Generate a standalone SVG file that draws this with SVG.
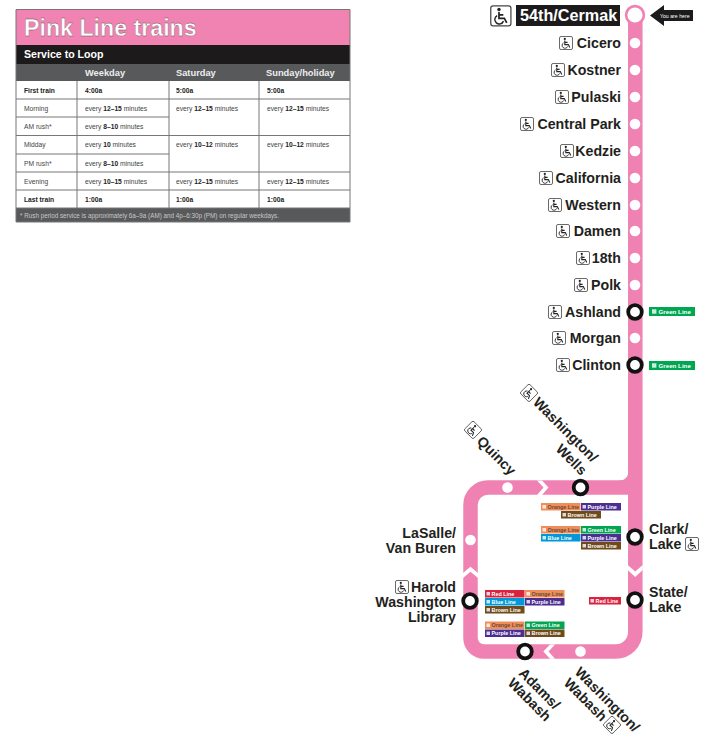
<svg xmlns="http://www.w3.org/2000/svg" width="724" height="738" viewBox="0 0 724 738">
<style>
text{font-family:"Liberation Sans",Arial,sans-serif}
.st{font-size:14.2px;font-weight:700;fill:#231f20}
.e{text-anchor:end}
.th{font-size:9.3px;font-weight:700;fill:#eee}
.td{font-size:6.7px;fill:#444}
.td tspan{font-weight:700;fill:#222}
.b{font-weight:700;fill:#222}
.grid{stroke:#777;stroke-width:1;fill:none}
.ring{fill:#fff;stroke:#111;stroke-width:3.8}
.stop{fill:#fff}
.tl{font-size:5.4px;font-weight:700;fill:#fff}
.gl{font-size:6.2px}
.ol{fill:#6a4a36}
.sq{fill:#fff;opacity:.8}
.chev{fill:#fff}
</style>
<defs>
<g id="ada">
<rect x=".5" y=".5" width="13" height="13" rx="1.5" fill="#fff" stroke="#444" stroke-width=".8"/>
<circle cx="5.8" cy="2.9" r="1.1" fill="#222"/>
<path d="M5.8 4.5V8.6H9.3L10.8 11.6M5.8 6.4H8.6" fill="none" stroke="#222" stroke-width="1.1"/>
<path d="M4.6 6.8A2.9 2.9 0 1 0 8.7 10.4" fill="none" stroke="#222" stroke-width=".9"/>
</g>
</defs>

<g id="schedule-table">
<rect x="16" y="9" width="334" height="213" fill="#fff"/>
<rect x="16" y="9" width="334" height="36" fill="#f083b2"/>
<rect x="16" y="45" width="334" height="19" fill="#1c1a1b"/>
<rect x="16" y="64" width="334" height="17" fill="#58595b"/>
<rect x="16" y="208" width="334" height="14" fill="#58595b"/>
<path class="grid" d="M16 9.500H350V222H16ZM16 99H350M16 117H169M16 135.500H350M16 154H169M16 172H350M16 190H350M16 208H350M77 81V208M169 81V208M259 81V208"/>
<text x="24" y="35.500" font-size="23.200" font-weight="700" fill="#fff" stroke="#5a4a50" stroke-width=".3">Pink Line trains</text>
<text x="24" y="58" font-size="10.600" font-weight="700" fill="#fff">Service to Loop</text>
<text class="th" x="85" y="76">Weekday</text>
<text class="th" x="176" y="76">Saturday</text>
<text class="th" x="266" y="76">Sunday/holiday</text>
<text class="td b" x="24" y="93">First train</text>
<text class="td" x="24" y="111">Morning</text>
<text class="td" x="24" y="129">AM rush*</text>
<text class="td" x="24" y="147">Midday</text>
<text class="td" x="24" y="166">PM rush*</text>
<text class="td" x="24" y="184">Evening</text>
<text class="td b" x="24" y="202">Last train</text>
<text class="td b" x="85" y="93">4:00a</text>
<text class="td" x="85" y="111">every <tspan>12–15</tspan> minutes</text>
<text class="td" x="85" y="129">every <tspan>8–10</tspan> minutes</text>
<text class="td" x="85" y="147">every <tspan>10</tspan> minutes</text>
<text class="td" x="85" y="166">every <tspan>8–10</tspan> minutes</text>
<text class="td" x="85" y="184">every <tspan>10–15</tspan> minutes</text>
<text class="td b" x="85" y="202">1:00a</text>
<text class="td b" x="176" y="93">5:00a</text>
<text class="td" x="176" y="111">every <tspan>12–15</tspan> minutes</text>
<text class="td" x="176" y="147">every <tspan>10–12</tspan> minutes</text>
<text class="td" x="176" y="184">every <tspan>12–15</tspan> minutes</text>
<text class="td b" x="176" y="202">1:00a</text>
<text class="td b" x="267" y="93">5:00a</text>
<text class="td" x="267" y="111">every <tspan>12–15</tspan> minutes</text>
<text class="td" x="267" y="147">every <tspan>10–12</tspan> minutes</text>
<text class="td" x="267" y="184">every <tspan>12–15</tspan> minutes</text>
<text class="td b" x="267" y="202">1:00a</text>
<text x="20" y="218" font-size="6.300" fill="#c8c8c8">* Rush period service is approximately 6a–9a (AM) and 4p–6:30p (PM) on regular weekdays.</text>
</g>

<g id="connectors">
<path d="M635.300 15V632A19.500 19.500 0 0 1 615.800 651.500H484A13.500 13.500 0 0 1 470.500 638V505A17.500 17.500 0 0 1 488 487.500H635" fill="none" stroke="#ef82b3" stroke-width="14.500"/>
<path d="M628.500 470Q628.500 481 617 481H628.500Z" fill="#ef82b3"/>
<polygon class="chev" points="537,480.500 542,480.500 548.500,487.500 542,495 537,495 543.500,487.500"/>
<polygon class="chev" points="627.700,565 635.200,571.500 642.700,565 642.700,570 635.200,577 627.700,570"/>
<polygon class="chev" points="463,573 470.500,566.700 478,573 478,578 470.500,571.700 463,578"/>
<polygon class="chev" points="555,644.500 550,644.500 543.300,651.500 550,658.700 555,658.700 548.500,651.500"/>
</g>

<g id="station-54th-cermak">
<circle cx="635" cy="15" r="8.900" fill="#fff" stroke="#ef82b3" stroke-width="2.600"/>
<rect x="516" y="5" width="104" height="21" fill="#1c1a1b"/>
<text x="520" y="21" font-size="16.200" font-weight="700" fill="#fff">54th/Cermak</text>
<use href="#ada" transform="translate(490 5) scale(1.55)"/>
</g>
<g id="you-are-here">
<polygon points="650,15.500 664,5 664,10 693,10 693,21 664,21 664,26" fill="#1c1a1b"/>
<text x="660" y="18" font-size="5.200" fill="#fff">You are here</text>
</g>
<g id="station-cicero"><circle class="stop" cx="635" cy="43" r="5.300"/><text class="st e" x="621" y="48">Cicero</text><use href="#ada" x="559" y="36"/></g>
<g id="station-kostner"><circle class="stop" cx="635" cy="70" r="5.300"/><text class="st e" x="621" y="75">Kostner</text><use href="#ada" x="551" y="63"/></g>
<g id="station-pulaski"><circle class="stop" cx="635" cy="97" r="5.300"/><text class="st e" x="621" y="102">Pulaski</text><use href="#ada" x="555" y="90"/></g>
<g id="station-central-park"><circle class="stop" cx="635" cy="124" r="5.300"/><text class="st e" x="621" y="129">Central Park</text><use href="#ada" x="520" y="117"/></g>
<g id="station-kedzie"><circle class="stop" cx="635" cy="151" r="5.300"/><text class="st e" x="621" y="156">Kedzie</text><use href="#ada" x="560" y="144"/></g>
<g id="station-california"><circle class="stop" cx="635" cy="178" r="5.300"/><text class="st e" x="621" y="183">California</text><use href="#ada" x="539" y="171"/></g>
<g id="station-western"><circle class="stop" cx="635" cy="205" r="5.300"/><text class="st e" x="621" y="210">Western</text><use href="#ada" x="548" y="198"/></g>
<g id="station-damen"><circle class="stop" cx="635" cy="231" r="5.300"/><text class="st e" x="621" y="236">Damen</text><use href="#ada" x="556" y="224"/></g>
<g id="station-18th"><circle class="stop" cx="635" cy="258" r="5.300"/><text class="st e" x="621" y="263">18th</text><use href="#ada" x="576" y="251"/></g>
<g id="station-polk"><circle class="stop" cx="635" cy="285" r="5.300"/><text class="st e" x="621" y="290">Polk</text><use href="#ada" x="574" y="278"/></g>
<g id="station-ashland"><circle class="ring" cx="635" cy="312" r="6.800"/><text class="st e" x="621" y="317">Ashland</text><use href="#ada" x="548" y="305"/>
<rect x="649" y="307" width="46" height="9" fill="#00a651"/><rect class="sq" x="652" y="309.300" width="4.400" height="4.400"/><text class="tl gl" x="658.500" y="313.800">Green Line</text></g>
<g id="station-morgan"><circle class="stop" cx="635" cy="338" r="5.300"/><text class="st e" x="621" y="343">Morgan</text><use href="#ada" x="552" y="331"/></g>
<g id="station-clinton"><circle class="ring" cx="635" cy="365" r="6.800"/><text class="st e" x="621" y="370">Clinton</text><use href="#ada" x="556" y="358"/>
<rect x="649" y="361" width="46" height="9" fill="#00a651"/><rect class="sq" x="652" y="363.300" width="4.400" height="4.400"/><text class="tl gl" x="658.500" y="367.800">Green Line</text></g>

<g id="station-washington-wells">
<circle class="ring" cx="580.500" cy="487.500" r="6.800"/>
<text class="st" text-anchor="end" transform="translate(592 463) rotate(45)">Washington/</text>
<text class="st" text-anchor="end" transform="translate(581 476) rotate(45)">Wells</text>
<use href="#ada" transform="translate(529 383) rotate(45)"/>
<g transform="translate(541 503)"><rect width="39.500" height="7.500" fill="#f08e5a"/><rect class="sq" x="1.500" y="2" width="3.500" height="3.500"/><text class="tl ol" x="6.500" y="5.700">Orange Line</text></g>
<g transform="translate(581 503)"><rect width="40" height="7.500" fill="#4b2e90"/><rect class="sq" x="1.500" y="2" width="3.500" height="3.500"/><text class="tl" x="6.500" y="5.700">Purple Line</text></g>
<g transform="translate(561 511)"><rect width="40" height="7.500" fill="#6e4a1c"/><rect class="sq" x="1.500" y="2" width="3.500" height="3.500"/><text class="tl" x="6.500" y="5.700">Brown Line</text></g>
</g>
<g id="station-quincy">
<circle class="stop" cx="507.500" cy="487.500" r="5.300"/>
<text class="st" text-anchor="end" transform="translate(510 476) rotate(45)">Quincy</text>
<use href="#ada" transform="translate(473 420) rotate(45)"/>
</g>
<g id="station-lasalle-van-buren">
<circle class="stop" cx="470.500" cy="540" r="5.300"/>
<text class="st e" x="456" y="538">LaSalle/</text>
<text class="st e" x="456" y="553">Van Buren</text>
</g>
<g id="station-harold-washington-library">
<circle class="ring" cx="470" cy="601" r="6.800"/>
<text class="st e" x="456" y="592">Harold</text>
<text class="st e" x="456" y="607">Washington</text>
<text class="st e" x="456" y="622">Library</text>
<use href="#ada" x="395" y="580"/>
<g transform="translate(485 590)"><rect width="39.500" height="7.500" fill="#d9233f"/><rect class="sq" x="1.500" y="2" width="3.500" height="3.500"/><text class="tl" x="6.500" y="5.700">Red Line</text></g>
<g transform="translate(525 590)"><rect width="39.500" height="7.500" fill="#f08e5a"/><rect class="sq" x="1.500" y="2" width="3.500" height="3.500"/><text class="tl ol" x="6.500" y="5.700">Orange Line</text></g>
<g transform="translate(485 598)"><rect width="39.500" height="7.500" fill="#0098d8"/><rect class="sq" x="1.500" y="2" width="3.500" height="3.500"/><text class="tl" x="6.500" y="5.700">Blue Line</text></g>
<g transform="translate(525 598)"><rect width="39.500" height="7.500" fill="#4b2e90"/><rect class="sq" x="1.500" y="2" width="3.500" height="3.500"/><text class="tl" x="6.500" y="5.700">Purple Line</text></g>
<g transform="translate(485 606)"><rect width="39.500" height="7.500" fill="#6e4a1c"/><rect class="sq" x="1.500" y="2" width="3.500" height="3.500"/><text class="tl" x="6.500" y="5.700">Brown Line</text></g>
</g>
<g id="station-adams-wabash">
<circle class="ring" cx="525" cy="651.500" r="6.800"/>
<text class="st" transform="translate(518 674) rotate(45)">Adams/</text>
<text class="st" transform="translate(507 684) rotate(45)">Wabash</text>
<g transform="translate(485 621.500)"><rect width="39.500" height="7.500" fill="#f08e5a"/><rect class="sq" x="1.500" y="2" width="3.500" height="3.500"/><text class="tl ol" x="6.500" y="5.700">Orange Line</text></g>
<g transform="translate(525 621.500)"><rect width="39.500" height="7.500" fill="#00a651"/><rect class="sq" x="1.500" y="2" width="3.500" height="3.500"/><text class="tl" x="6.500" y="5.700">Green Line</text></g>
<g transform="translate(485 629.500)"><rect width="39.500" height="7.500" fill="#4b2e90"/><rect class="sq" x="1.500" y="2" width="3.500" height="3.500"/><text class="tl" x="6.500" y="5.700">Purple Line</text></g>
<g transform="translate(525 629.500)"><rect width="39.500" height="7.500" fill="#6e4a1c"/><rect class="sq" x="1.500" y="2" width="3.500" height="3.500"/><text class="tl" x="6.500" y="5.700">Brown Line</text></g>
</g>
<g id="station-washington-wabash">
<circle class="stop" cx="580.500" cy="651.500" r="5.300"/>
<text class="st" transform="translate(574 673) rotate(45)">Washington/</text>
<text class="st" transform="translate(563 684) rotate(45)">Wabash</text>
<use href="#ada" transform="translate(612 715) rotate(45)"/>
</g>
<g id="station-clark-lake">
<circle class="ring" cx="635" cy="537" r="6.800"/>
<text class="st" x="649" y="534">Clark/</text>
<text class="st" x="649" y="549">Lake</text>
<use href="#ada" x="685" y="537"/>
<g transform="translate(541 526)"><rect width="39.500" height="7.500" fill="#f08e5a"/><rect class="sq" x="1.500" y="2" width="3.500" height="3.500"/><text class="tl ol" x="6.500" y="5.700">Orange Line</text></g>
<g transform="translate(581 526)"><rect width="40" height="7.500" fill="#00a651"/><rect class="sq" x="1.500" y="2" width="3.500" height="3.500"/><text class="tl" x="6.500" y="5.700">Green Line</text></g>
<g transform="translate(541 534)"><rect width="39.500" height="7.500" fill="#0098d8"/><rect class="sq" x="1.500" y="2" width="3.500" height="3.500"/><text class="tl" x="6.500" y="5.700">Blue Line</text></g>
<g transform="translate(581 534)"><rect width="40" height="7.500" fill="#4b2e90"/><rect class="sq" x="1.500" y="2" width="3.500" height="3.500"/><text class="tl" x="6.500" y="5.700">Purple Line</text></g>
<g transform="translate(581 542)"><rect width="40" height="7.500" fill="#6e4a1c"/><rect class="sq" x="1.500" y="2" width="3.500" height="3.500"/><text class="tl" x="6.500" y="5.700">Brown Line</text></g>
</g>
<g id="station-state-lake">
<circle class="ring" cx="635" cy="600" r="6.800"/>
<text class="st" x="649" y="597">State/</text>
<text class="st" x="649" y="612">Lake</text>
<g transform="translate(589 597)"><rect width="32" height="7.500" fill="#d9233f"/><rect class="sq" x="1.500" y="2" width="3.500" height="3.500"/><text class="tl" x="6.500" y="5.700">Red Line</text></g>
</g>
</svg>
